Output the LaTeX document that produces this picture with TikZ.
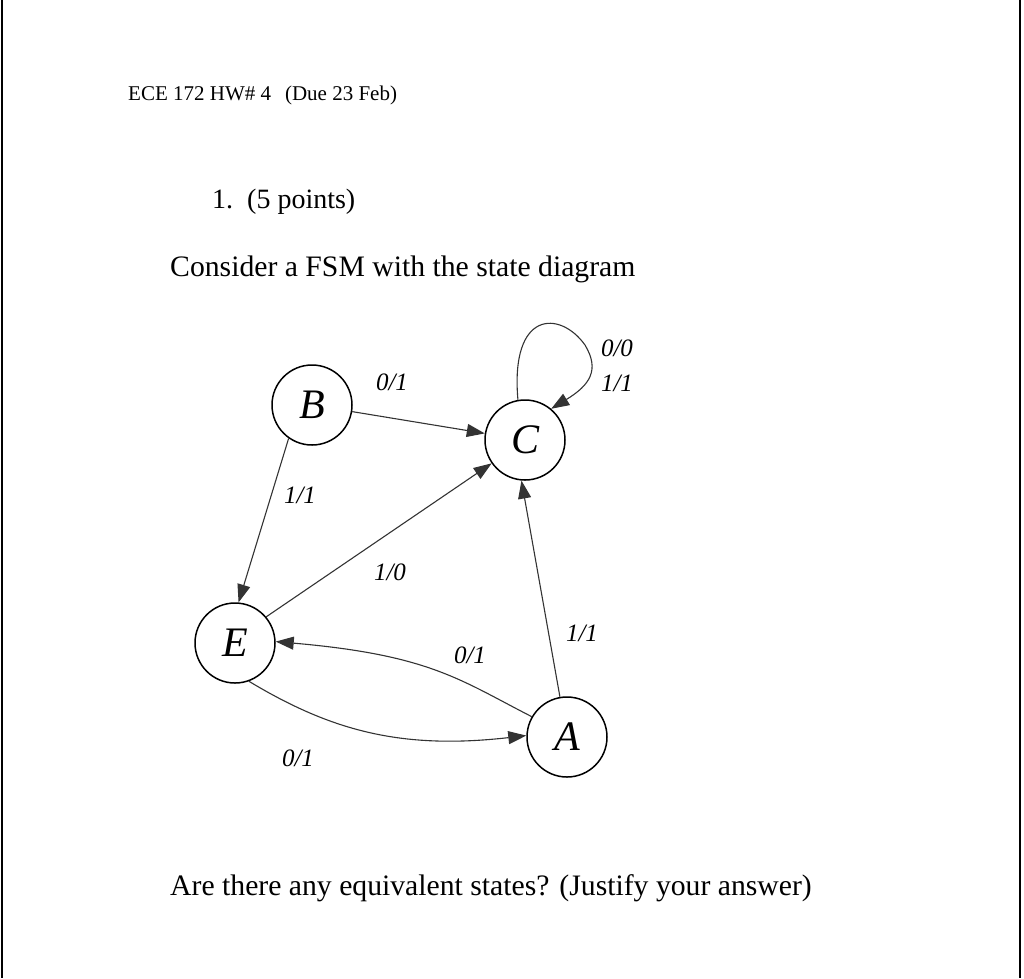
\documentclass[tikz,border=0pt]{standalone}
\usepackage{fontspec}
\setmainfont{Liberation Serif}
\usetikzlibrary{arrows.meta}
\begin{document}
\begin{tikzpicture}[x=1pt,y=-1pt,
  st/.style={circle,draw,line width=1.5pt,minimum size=80pt,inner sep=0pt,font=\fontsize{42}{42}\selectfont\itshape},
  ed/.style={draw=black!80,line width=1.1pt,-{Triangle[length=18pt,width=13pt]}},
  lb/.style={font=\fontsize{25}{25}\selectfont\itshape},
  tx/.style={anchor=base west,inner sep=0pt}]
\useasboundingbox (0,0) rectangle (1024,978);
\draw[line width=2pt] (2,0) -- (2,978);
\draw[line width=2pt] (1020,0) -- (1020,978);
\node[tx,font=\fontsize{21}{21}\selectfont] (t1) at (128,100) {ECE 172 HW\# 4\hspace{14pt}(Due 23 Feb)};
\node[tx,font=\fontsize{28}{28}\selectfont] (t2) at (212,208) {1.\hspace{14pt}(5 points)};
\node[tx,font=\fontsize{29.7}{30}\selectfont] (t3) at (170,276) {Consider a FSM with the state diagram};
\node[tx,font=\fontsize{29.7}{30}\selectfont] (t4) at (170,895) {Are there any equivalent states? (Justify your answer)};
\node[st] (B) at (312,405) {B};
\node[st] (C) at (525,440) {C};
\node[st] (E) at (235,643) {E};
\node[st] (A) at (567,737) {A};
\draw[ed] (B) -- (C);
\draw[ed] (B.235) -- (E.85);
\draw[ed] (E.40) -- (C.215);
\draw[ed] (A.100) -- (C.-95);
\draw[ed] (A.150) .. controls (460,680) and (430,655) .. (E.2);
\draw[ed] (E.-70) .. controls (330,730) and (400,750) .. (A.178);
\draw[ed] (C.100) .. controls (510,310) and (560,310) .. (585,345) .. controls (600,370) and (590,385) .. (C.50);
\node[lb] (l1) at (392,382) {0/1};
\node[lb] (l2) at (300,495) {1/1};
\node[lb] (l3) at (390,572) {1/0};
\node[lb] (l4) at (470,655) {0/1};
\node[lb] (l5) at (582,633) {1/1};
\node[lb] (l6) at (298,758) {0/1};
\node[lb] (l7) at (617,348) {0/0};
\node[lb] (l8) at (617,383) {1/1};
\end{tikzpicture}
\end{document}
